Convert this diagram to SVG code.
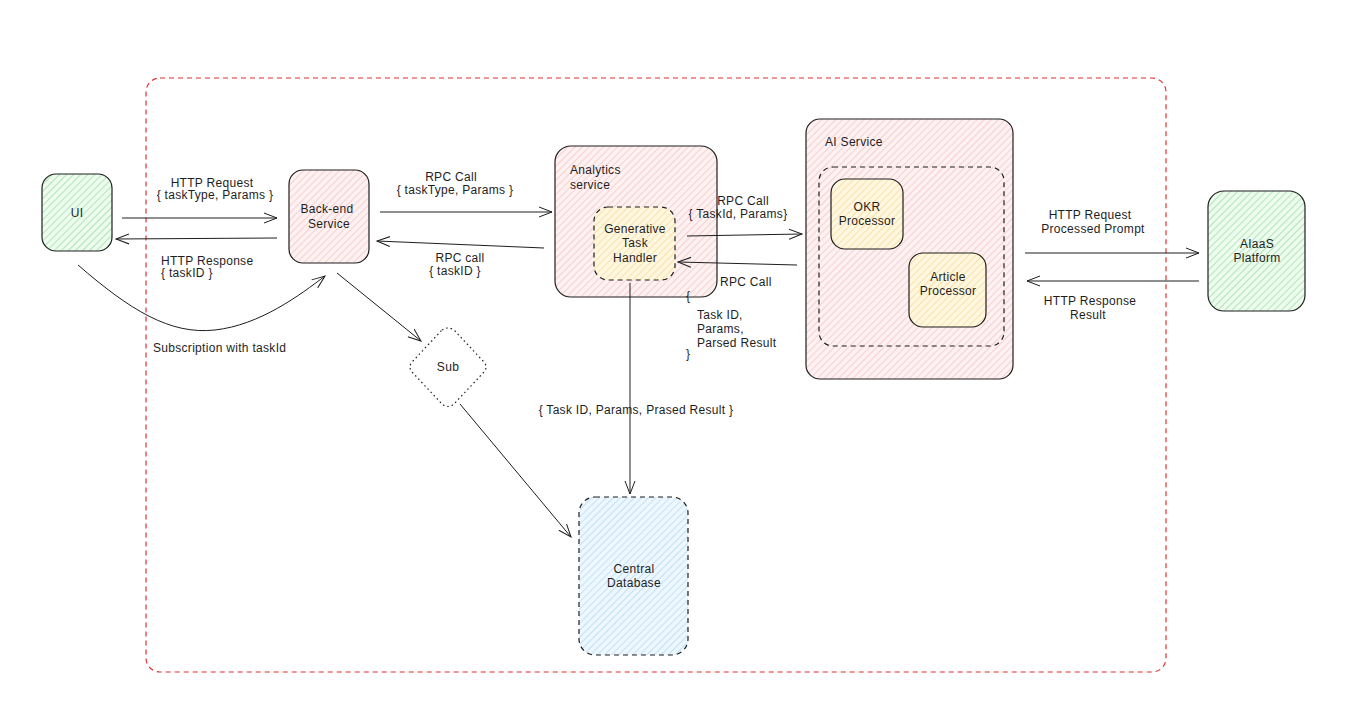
<svg xmlns="http://www.w3.org/2000/svg" width="1358" height="708" viewBox="0 0 1358 708">
<style>
  text{font-family:"Liberation Sans",Arial,sans-serif;font-size:12px;letter-spacing:0.3px;fill:#1e1e1e}
  .c{text-anchor:middle}
  .node{stroke:#1e1e1e;stroke-width:1.2}
  .dash{stroke-dasharray:5 4}
  .conn{fill:none;stroke:#1e1e1e;stroke-width:1}
</style>
<defs>
  <pattern id="hg" patternUnits="userSpaceOnUse" width="5" height="5" patternTransform="rotate(45)">
    <rect width="5" height="5" fill="#eefbef"/><line x1="0" y1="0" x2="0" y2="5" stroke="#9fe3a9" stroke-width="1.6"/>
  </pattern>
  <pattern id="hp" patternUnits="userSpaceOnUse" width="5" height="5" patternTransform="rotate(45)">
    <rect width="5" height="5" fill="#fdf1f1"/><line x1="0" y1="0" x2="0" y2="5" stroke="#f9c7c7" stroke-width="1.6"/>
  </pattern>
  <pattern id="hy" patternUnits="userSpaceOnUse" width="5" height="5" patternTransform="rotate(45)">
    <rect width="5" height="5" fill="#fff7e0"/><line x1="0" y1="0" x2="0" y2="5" stroke="#f8dc9a" stroke-width="1.6"/>
  </pattern>
  <pattern id="hb" patternUnits="userSpaceOnUse" width="5" height="5" patternTransform="rotate(45)">
    <rect width="5" height="5" fill="#eef7fe"/><line x1="0" y1="0" x2="0" y2="5" stroke="#b4dcfa" stroke-width="1.6"/>
  </pattern>
  <marker id="ah" markerWidth="16" markerHeight="12" refX="13" refY="6" orient="auto" markerUnits="userSpaceOnUse">
    <path d="M0,1 L13,6 L0,11" fill="none" stroke="#1e1e1e" stroke-width="1"/>
  </marker>
</defs>
<rect width="1358" height="708" fill="#ffffff"/>

<g id="boundary">
  <rect x="146" y="78" width="1020" height="594" rx="14" fill="none" stroke="#e03131" stroke-width="1.2" stroke-dasharray="5 4"/>
</g>

<g id="ai-service">
  <rect class="node" x="806" y="119" width="207" height="260" rx="14" fill="url(#hp)"/>
  <text x="825" y="146">AI Service</text>
  <rect class="node dash" x="819" y="167" width="185" height="179" rx="14" fill="none"/>
</g>
<g id="analytics">
  <rect class="node" x="555" y="146" width="162" height="151" rx="16" fill="url(#hp)"/>
  <text x="570" y="174">Analytics</text>
  <text x="570" y="189">service</text>
</g>

<g id="connectors">
  <line class="conn" x1="122" y1="218" x2="277" y2="218" marker-end="url(#ah)"/>
  <line class="conn" x1="277" y1="238" x2="116" y2="239" marker-end="url(#ah)"/>
  <path class="conn" d="M78,265 C130,310 170,335 215,330 C260,325 300,295 325,276" marker-end="url(#ah)"/>
  <line class="conn" x1="337" y1="273" x2="421" y2="341" marker-end="url(#ah)"/>
  <line class="conn" x1="460" y1="404" x2="571" y2="537" marker-end="url(#ah)"/>
  <line class="conn" x1="380" y1="212" x2="552" y2="212" marker-end="url(#ah)"/>
  <line class="conn" x1="544" y1="248" x2="377" y2="241" marker-end="url(#ah)"/>
  <line class="conn" x1="687" y1="236" x2="802" y2="234" marker-end="url(#ah)"/>
  <line class="conn" x1="797" y1="265" x2="678" y2="262" marker-end="url(#ah)"/>
  <line class="conn" x1="630" y1="283" x2="630" y2="494" marker-end="url(#ah)"/>
  <line class="conn" x1="1025" y1="253" x2="1199" y2="253" marker-end="url(#ah)"/>
  <line class="conn" x1="1199" y1="281" x2="1027" y2="281" marker-end="url(#ah)"/>
</g>

<g id="labels">
  <text class="c" x="212" y="187">HTTP Request</text>
  <text class="c" x="215" y="199">{ taskType, Params }</text>
  <text x="161" y="265">HTTP Response</text>
  <text x="161" y="277">{ taskID }</text>
  <text x="153" y="352">Subscription with taskId</text>
  <text class="c" x="451" y="181">RPC Call</text>
  <text class="c" x="455" y="194">{ taskType, Params }</text>
  <text class="c" x="460" y="262">RPC call</text>
  <text class="c" x="455" y="275">{ taskID }</text>
  <text class="c" x="743" y="205">RPC Call</text>
  <text class="c" x="738" y="218">{ TaskId, Params}</text>
  <text x="720" y="286">RPC Call</text>
  <text x="686" y="300">{</text>
  <text x="697" y="319">Task ID,</text>
  <text x="697" y="333">Params,</text>
  <text x="697" y="347">Parsed Result</text>
  <text x="686" y="358">}</text>
  <text class="c" x="636" y="414">{ Task ID, Params, Prased Result }</text>
  <text class="c" x="1090" y="219">HTTP Request</text>
  <text class="c" x="1093" y="233">Processed Prompt</text>
  <text class="c" x="1090" y="305">HTTP Response</text>
  <text class="c" x="1088" y="319">Result</text>
</g>

<g id="ui">
  <rect class="node" x="42" y="174" width="70" height="77" rx="14" fill="url(#hg)"/>
  <text class="c" x="77" y="217">UI</text>
</g>
<g id="backend">
  <rect class="node" x="289" y="170" width="80" height="93" rx="14" fill="url(#hp)"/>
  <text class="c" x="327" y="213">Back-end</text>
  <text class="c" x="329" y="228">Service</text>
</g>
<g id="generative">
  <rect class="node dash" x="594" y="207" width="81" height="73" rx="14" fill="url(#hy)"/>
  <text class="c" x="635" y="233">Generative</text>
  <text class="c" x="635" y="247">Task</text>
  <text class="c" x="635" y="262">Handler</text>
</g>
<g id="okr">
  <rect class="node" x="831" y="179" width="72" height="70" rx="14" fill="url(#hy)"/>
  <text class="c" x="867" y="211">OKR</text>
  <text class="c" x="867" y="225">Processor</text>
</g>
<g id="article">
  <rect class="node" x="909" y="253" width="77" height="74" rx="14" fill="url(#hy)"/>
  <text class="c" x="948" y="281">Article</text>
  <text class="c" x="948" y="295">Processor</text>
</g>
<g id="aiaas">
  <rect class="node" x="1208" y="191" width="97" height="120" rx="16" fill="url(#hg)"/>
  <text class="c" x="1257" y="248">AIaaS</text>
  <text class="c" x="1257" y="262">Platform</text>
</g>
<g id="sub">
  <path d="M442,330 Q448,326 454,330 L484,362 Q488,367 484,372 L454,404 Q448,409 442,404 L412,372 Q408,367 412,362 Z" fill="#ffffff" stroke="#1e1e1e" stroke-width="1.2" stroke-dasharray="1.5 3"/>
  <text class="c" x="448" y="371">Sub</text>
</g>
<g id="database">
  <rect class="node dash" x="579" y="497" width="109" height="158" rx="16" fill="url(#hb)"/>
  <text class="c" x="634" y="573">Central</text>
  <text class="c" x="634" y="587">Database</text>
</g>
</svg>
